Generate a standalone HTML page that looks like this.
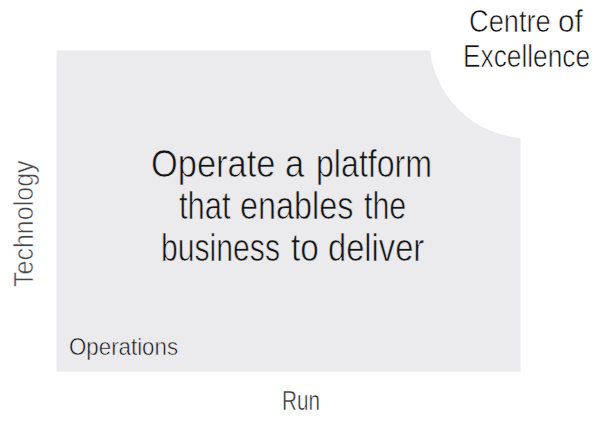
<!DOCTYPE html>
<html><head><meta charset="utf-8">
<style>
html,body{margin:0;padding:0;background:#fff;width:600px;height:425px;overflow:hidden;position:relative}
.t{position:absolute;font-family:"Liberation Sans",sans-serif;white-space:nowrap;line-height:1;transform-origin:0 0;color:#141414}
</style></head><body>
<svg width="600" height="425" style="position:absolute;left:0;top:0">
<path d="M56.5,50.5 H429.97 A99.3,99.3 0 0 0 520.5,137.97 V371.5 H56.5 Z" fill="#ebebed"/>
</svg>
<div class="t" style="left:151.30px;top:145.28px;font-size:38px;-webkit-text-stroke:0.65px #ebebed;transform:scaleX(0.9058)">Operate</div>
<div class="t" style="left:284.94px;top:145.28px;font-size:38px;-webkit-text-stroke:0.65px #ebebed;transform:scaleX(0.9095)">a</div>
<div class="t" style="left:315.98px;top:145.28px;font-size:38px;-webkit-text-stroke:0.65px #ebebed;transform:scaleX(0.8458)">platform</div>
<div class="t" style="left:178.85px;top:187.28px;font-size:38px;-webkit-text-stroke:0.65px #ebebed;transform:scaleX(0.8154)">that</div>
<div class="t" style="left:240.08px;top:187.28px;font-size:38px;-webkit-text-stroke:0.65px #ebebed;transform:scaleX(0.8523)">enables</div>
<div class="t" style="left:364.27px;top:187.28px;font-size:38px;-webkit-text-stroke:0.65px #ebebed;transform:scaleX(0.8006)">the</div>
<div class="t" style="left:160.86px;top:229.28px;font-size:38px;-webkit-text-stroke:0.65px #ebebed;transform:scaleX(0.7932)">business</div>
<div class="t" style="left:290.96px;top:229.28px;font-size:38px;-webkit-text-stroke:0.65px #ebebed;transform:scaleX(0.8775)">to</div>
<div class="t" style="left:328.48px;top:229.28px;font-size:38px;-webkit-text-stroke:0.65px #ebebed;transform:scaleX(0.8590)">deliver</div>
<div class="t" style="left:468.81px;top:5.75px;font-size:31px;-webkit-text-stroke:0.6px #ffffff;transform:scaleX(0.8785)">Centre</div>
<div class="t" style="left:557.86px;top:5.75px;font-size:31px;-webkit-text-stroke:0.6px #ffffff;transform:scaleX(0.9612)">of</div>
<div class="t" style="left:462.56px;top:40.75px;font-size:31px;-webkit-text-stroke:0.6px #ffffff;transform:scaleX(0.8475)">Excellence</div>
<div class="t" style="left:68.66px;top:334.86px;font-size:24.5px;-webkit-text-stroke:0.55px #ebebed;transform:scaleX(0.9101)">Operations</div>
<div class="t" style="left:282.01px;top:386.72px;font-size:27.5px;-webkit-text-stroke:0.5px #ffffff;color:#2e2e2e;transform:scaleX(0.7524)">Run</div>
<div class="t" style="left:9.79px;top:286.58px;font-size:28px;-webkit-text-stroke:0.55px #ffffff;color:#484848;transform:rotate(-90deg) scaleX(0.8937)">Technology</div>
</body></html>
